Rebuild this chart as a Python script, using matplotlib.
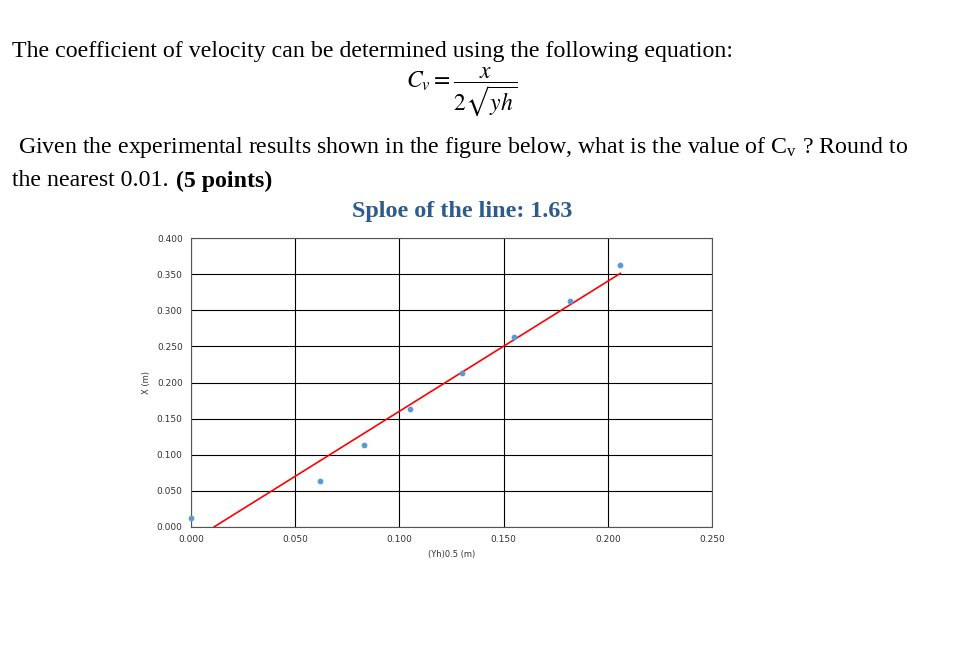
import matplotlib
matplotlib.use('Agg')
import matplotlib.pyplot as plt

x_vals = [0.000, 0.062, 0.083, 0.105, 0.130, 0.155, 0.182, 0.206]
y_vals = [0.013, 0.063, 0.113, 0.163, 0.213, 0.263, 0.313, 0.363]
# fitted line endpoints
line_x = [0.011, 0.206]
line_y = [0.000, 0.351]
x_ticks = [0.0, 0.05, 0.10, 0.15, 0.20, 0.25]
y_ticks = [0.0, 0.05, 0.10, 0.15, 0.20, 0.25, 0.30, 0.35, 0.40]

plt.rcParams['mathtext.fontset'] = 'stix'
fig = plt.figure(figsize=(9.56, 6.49), dpi=100)
serif = ['Liberation Serif', 'DejaVu Serif']
fs = 17.2

fig.text(12/956, 1 - 52/649, "The coefficient of velocity can be determined using the following equation:",
         family=serif, fontsize=fs, va='center')
fig.text(462/956, 1 - 92/649, r"$C_v = \dfrac{x}{2\sqrt{yh}}$", fontsize=17, ha='center', va='center')
fig.text(18/956, 1 - 148/649,
         "Given the experimental results shown in the figure below, what is the value of C$_\\mathregular{v}$ ? Round to",
         family=serif, fontsize=fs, va='center')
fig.text(12/956, 1 - 181/649, "the nearest 0.01.", family=serif, fontsize=fs, va='center')
fig.text(176/956, 1 - 181/649, "(5 points)", family=serif, fontsize=fs, va='center', weight='bold')
fig.text(462/956, 1 - 212/649, "Sploe of the line: 1.63", family=serif, fontsize=17.4,
         ha='center', va='center', weight='bold', color='#2E5C8A')

ax = fig.add_axes([191/956, 1 - 527/649, 521/956, 289/649])
ax.scatter(x_vals, y_vals, s=10, color='#5B9BD5', zorder=3, clip_on=False)
ax.plot(line_x, line_y, color='red', lw=1.2, zorder=2)
ax.set_xlim(0, 0.25)
ax.set_ylim(0, 0.4)
ax.set_xticks(x_ticks)
ax.set_yticks(y_ticks)
ax.set_xticklabels([f"{v:.3f}" for v in x_ticks], fontsize=6.5, color='#333333')
ax.set_yticklabels([f"{v:.3f}" for v in y_ticks], fontsize=6.5, color='#333333')
ax.tick_params(length=0, pad=6)
ax.grid(True, color='black', lw=0.8)
for s in ax.spines.values():
    s.set_color('#555555')
    s.set_linewidth(0.8)
ax.set_xlabel("(Yh)0.5 (m)", fontsize=6, color='#333333')
ax.set_ylabel("X (m)", fontsize=6, color='#333333')

fig.savefig('out.png', dpi=100)
